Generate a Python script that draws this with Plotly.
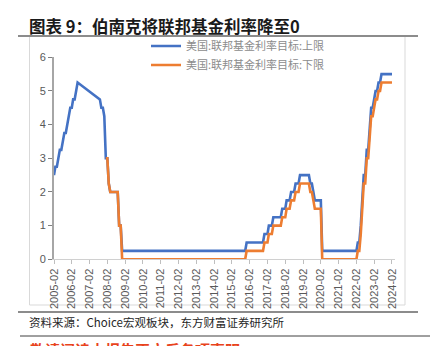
import pandas as pd
import plotly.graph_objects as go

# Fed funds target, monthly (upper bound = single target before Dec 2008)
upper_a_months = ("2005-02", "2006-06")
upper_a = [
    2.5, 2.75, 2.75, 3.0, 3.25, 3.25, 3.5, 3.75, 3.75, 4.0, 4.25,   # 2005 Feb-Dec
    4.5, 4.5, 4.75, 4.75, 5.0, 5.25,                                # 2006 Jan-Jun
]
upper_b_months = ("2007-09", "2024-02")
upper_b = [
    4.75, 4.5, 4.5, 4.25,                                            # 2007 Sep-Dec
    3.0, 3.0, 2.25, 2.0, 2.0, 2.0, 2.0, 2.0, 2.0, 1.0, 1.0, 0.25,   # 2008
    0.25, 0.25, 0.25, 0.25, 0.25, 0.25, 0.25, 0.25, 0.25, 0.25, 0.25, 0.25,  # 2009
    0.25, 0.25, 0.25, 0.25, 0.25, 0.25, 0.25, 0.25, 0.25, 0.25, 0.25, 0.25,  # 2010
    0.25, 0.25, 0.25, 0.25, 0.25, 0.25, 0.25, 0.25, 0.25, 0.25, 0.25, 0.25,  # 2011
    0.25, 0.25, 0.25, 0.25, 0.25, 0.25, 0.25, 0.25, 0.25, 0.25, 0.25, 0.25,  # 2012
    0.25, 0.25, 0.25, 0.25, 0.25, 0.25, 0.25, 0.25, 0.25, 0.25, 0.25, 0.25,  # 2013
    0.25, 0.25, 0.25, 0.25, 0.25, 0.25, 0.25, 0.25, 0.25, 0.25, 0.25, 0.25,  # 2014
    0.25, 0.25, 0.25, 0.25, 0.25, 0.25, 0.25, 0.25, 0.25, 0.25, 0.25, 0.5,   # 2015
    0.5, 0.5, 0.5, 0.5, 0.5, 0.5, 0.5, 0.5, 0.5, 0.5, 0.5, 0.75,             # 2016
    0.75, 0.75, 1.0, 1.0, 1.0, 1.25, 1.25, 1.25, 1.25, 1.25, 1.25, 1.5,      # 2017
    1.5, 1.5, 1.75, 1.75, 1.75, 2.0, 2.0, 2.0, 2.25, 2.25, 2.25, 2.5,        # 2018
    2.5, 2.5, 2.5, 2.5, 2.5, 2.5, 2.25, 2.25, 2.0, 1.75, 1.75, 1.75,         # 2019
    1.75, 1.75, 0.25, 0.25, 0.25, 0.25, 0.25, 0.25, 0.25, 0.25, 0.25, 0.25,  # 2020
    0.25, 0.25, 0.25, 0.25, 0.25, 0.25, 0.25, 0.25, 0.25, 0.25, 0.25, 0.25,  # 2021
    0.25, 0.25, 0.5, 0.5, 1.0, 1.75, 2.5, 2.5, 3.25, 3.25, 4.0, 4.5,         # 2022
    4.5, 4.75, 5.0, 5.0, 5.25, 5.25, 5.5, 5.5, 5.5, 5.5, 5.5, 5.5,           # 2023
    5.5, 5.5,                                                                # 2024 Jan-Feb
]

lower_months = ("2008-01", "2024-02")
lower = [
    3.0, 3.0, 2.25, 2.0, 2.0, 2.0, 2.0, 2.0, 2.0, 1.0, 1.0, 0.0,     # 2008
    0.0, 0.0, 0.0, 0.0, 0.0, 0.0, 0.0, 0.0, 0.0, 0.0, 0.0, 0.0,      # 2009
    0.0, 0.0, 0.0, 0.0, 0.0, 0.0, 0.0, 0.0, 0.0, 0.0, 0.0, 0.0,      # 2010
    0.0, 0.0, 0.0, 0.0, 0.0, 0.0, 0.0, 0.0, 0.0, 0.0, 0.0, 0.0,      # 2011
    0.0, 0.0, 0.0, 0.0, 0.0, 0.0, 0.0, 0.0, 0.0, 0.0, 0.0, 0.0,      # 2012
    0.0, 0.0, 0.0, 0.0, 0.0, 0.0, 0.0, 0.0, 0.0, 0.0, 0.0, 0.0,      # 2013
    0.0, 0.0, 0.0, 0.0, 0.0, 0.0, 0.0, 0.0, 0.0, 0.0, 0.0, 0.0,      # 2014
    0.0, 0.0, 0.0, 0.0, 0.0, 0.0, 0.0, 0.0, 0.0, 0.0, 0.0, 0.25,     # 2015
    0.25, 0.25, 0.25, 0.25, 0.25, 0.25, 0.25, 0.25, 0.25, 0.25, 0.25, 0.5,   # 2016
    0.5, 0.5, 0.75, 0.75, 0.75, 1.0, 1.0, 1.0, 1.0, 1.0, 1.0, 1.25,          # 2017
    1.25, 1.25, 1.5, 1.5, 1.5, 1.75, 1.75, 1.75, 2.0, 2.0, 2.0, 2.25,        # 2018
    2.25, 2.25, 2.25, 2.25, 2.25, 2.25, 2.0, 2.0, 1.75, 1.5, 1.5, 1.5,       # 2019
    1.5, 1.5, 0.0, 0.0, 0.0, 0.0, 0.0, 0.0, 0.0, 0.0, 0.0, 0.0,              # 2020
    0.0, 0.0, 0.0, 0.0, 0.0, 0.0, 0.0, 0.0, 0.0, 0.0, 0.0, 0.0,              # 2021
    0.0, 0.0, 0.25, 0.25, 0.75, 1.5, 2.25, 2.25, 3.0, 3.0, 3.75, 4.25,       # 2022
    4.25, 4.5, 4.75, 4.75, 5.0, 5.0, 5.25, 5.25, 5.25, 5.25, 5.25, 5.25,     # 2023
    5.25, 5.25,                                                              # 2024 Jan-Feb
]

tick_labels = [f"{y}-02" for y in range(2005, 2025)]
y_ticks = [0, 1, 2, 3, 4, 5, 6]

name_upper = "美国:联邦基金利率目标:上限"
name_lower = "美国:联邦基金利率目标:下限"
title_text = "图表 9：伯南克将联邦基金利率降至0"
source_text = "资料来源：Choice宏观板块，东方财富证券研究所"
notice_text = "敬请阅读本报告正文后各项声明"


def months(span):
    return pd.date_range(span[0] + "-01", span[1] + "-01", freq="MS")


upper_x = list(months(upper_a_months)) + list(months(upper_b_months))
upper_y = upper_a + upper_b
lower_x = list(months(lower_months))

W, H = 430, 346


def px(p):
    return p / W


def py(p):
    return 1 - p / H


CJK = "Noto Sans CJK SC"
LATIN = "Liberation Sans, Arial, sans-serif"
legend_font = dict(family=CJK, size=11, color="#8c8c8c")

fig = go.Figure()
fig.add_trace(go.Scatter(
    x=upper_x, y=upper_y, mode="lines", name=name_upper, legend="legend",
    line=dict(color="#4472C4", width=2.6),
))
fig.add_trace(go.Scatter(
    x=lower_x, y=lower, mode="lines", name=name_lower, legend="legend2",
    line=dict(color="#ED7D31", width=2.6),
))

fig.update_layout(
    width=W, height=H,
    margin=dict(l=0, r=0, t=0, b=0, autoexpand=False),
    paper_bgcolor="white", plot_bgcolor="white",
    showlegend=True,
    legend=dict(
        x=px(146), y=py(46), xanchor="left", yanchor="middle",
        bgcolor="rgba(0,0,0,0)", itemwidth=30, font=legend_font,
    ),
    legend2=dict(
        x=px(146), y=py(65), xanchor="left", yanchor="middle",
        bgcolor="rgba(0,0,0,0)", itemwidth=30, font=legend_font,
    ),
    xaxis=dict(
        type="date",
        domain=[px(54), px(395)],
        range=["2005-02-01", "2024-04-03"],
        tickvals=[f"{y}-02-01" for y in range(2005, 2025)],
        ticktext=tick_labels,
        tickangle=-90,
        ticks="outside", ticklen=4, tickcolor="#bfbfbf",
        showline=True, linecolor="#d0d0d0", linewidth=1,
        showgrid=False, zeroline=False, automargin=False,
        tickfont=dict(family=LATIN, size=11, color="#595959"),
    ),
    yaxis=dict(
        range=[0, 6],
        domain=[py(259.3), py(57.3)],
        tickvals=y_ticks,
        ticks="outside", ticklen=4, tickcolor="#808080",
        showline=True, linecolor="#a6a6a6", linewidth=2,
        showgrid=False, zeroline=False, automargin=False,
        tickfont=dict(family=LATIN, size=11, color="#595959"),
    ),
)

# chart frame and rules
fig.add_shape(type="rect", xref="paper", yref="paper",
              x0=px(29.5), x1=px(405), y0=py(305), y1=py(36),
              line=dict(color="#d9d9d9", width=1), layer="below")
fig.add_shape(type="line", xref="paper", yref="paper",
              x0=px(18), x1=px(418), y0=py(36), y1=py(36),
              line=dict(color="#8c8c8c", width=2))
fig.add_shape(type="line", xref="paper", yref="paper",
              x0=px(18), x1=px(418), y0=py(312), y1=py(312),
              line=dict(color="#8c8c8c", width=2))
fig.add_shape(type="line", xref="paper", yref="paper",
              x0=px(20), x1=px(430), y0=py(336), y1=py(336),
              line=dict(color="#404040", width=1))

fig.add_annotation(xref="paper", yref="paper", x=px(27), y=py(25.5),
                   xanchor="left", yanchor="middle", showarrow=False,
                   text=f"<b>{title_text}</b>",
                   font=dict(family=CJK, size=16.5, color="#1a1a1a"))
fig.add_annotation(xref="paper", yref="paper", x=px(27), y=py(321.5),
                   xanchor="left", yanchor="middle", showarrow=False,
                   text=source_text,
                   font=dict(family=CJK, size=11.5, color="#262626"))
fig.add_annotation(xref="paper", yref="paper", x=px(28), y=py(349),
                   xanchor="left", yanchor="middle", showarrow=False,
                   text=f"<b>{notice_text}</b>",
                   font=dict(family=CJK, size=15, color="#E8431C"))

fig.write_html("out.html")
